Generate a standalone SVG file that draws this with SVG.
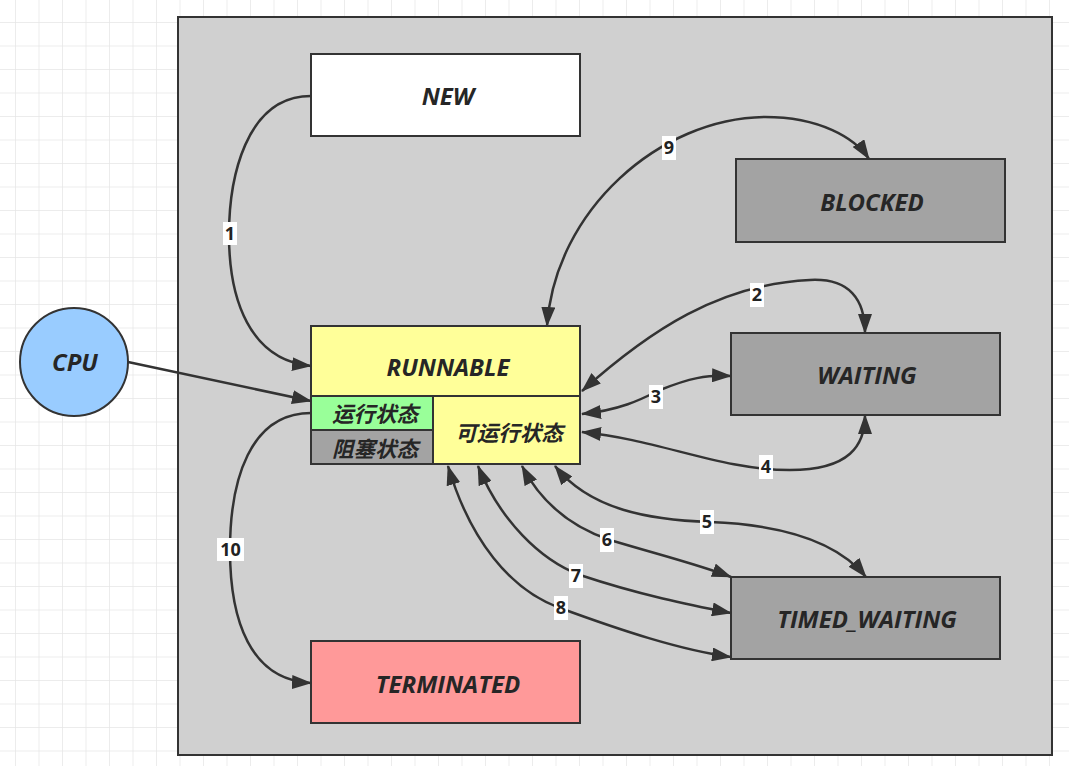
<svg xmlns="http://www.w3.org/2000/svg" width="1069" height="766" viewBox="0 0 1069 766">
<defs>
<pattern id="grid" x="15" y="22" width="23.5" height="23.5" patternUnits="userSpaceOnUse">
<path d="M0,0 H23.5 M0,0 V23.5" fill="none" stroke="#e6e6e6" stroke-width="1.5"/>
</pattern>
<marker id="ah" viewBox="0 0 20 14" refX="19" refY="7" markerWidth="20" markerHeight="14" markerUnits="userSpaceOnUse" orient="auto-start-reverse">
<path d="M0,0 L20,7 L0,14 Z" fill="#333"/>
</marker>
<style>
.node{stroke:#333;stroke-width:2}
.t{font-family:"Open Sans","Noto Sans CJK SC",sans-serif;font-weight:bold;font-style:italic;font-size:24px;fill:#262626;text-anchor:middle;dominant-baseline:central}
.c{font-family:"Noto Sans CJK SC",sans-serif;font-weight:bold;font-style:italic;font-size:21.5px;fill:#262626;text-anchor:middle;dominant-baseline:central}
.e{fill:none;stroke:#333;stroke-width:2.5}
.one{marker-end:url(#ah)}
.two{marker-start:url(#ah);marker-end:url(#ah)}
.lb{fill:#fff}
.lt{font-family:"Open Sans",sans-serif;font-weight:bold;font-size:18px;fill:#222;text-anchor:middle;dominant-baseline:central}
</style>
</defs>
<rect width="1069" height="766" fill="#fff"/>
<rect width="1069" height="766" fill="url(#grid)"/>
<rect id="container" x="178" y="17" width="874" height="738" fill="#d0d0d0" stroke="#333" stroke-width="2"/>

<g id="NEW"><rect class="node" x="311" y="54" width="269" height="82" fill="#fff"/><text class="t" x="448" y="95">NEW</text></g>
<g id="BLOCKED"><rect class="node" x="736" y="159" width="269" height="83" fill="#a3a3a3"/><text class="t" x="872" y="201">BLOCKED</text></g>
<g id="WAITING"><rect class="node" x="731" y="333" width="269" height="82" fill="#a3a3a3"/><text class="t" x="867" y="374">WAITING</text></g>
<g id="RUNNABLE">
<rect class="node" x="311" y="326" width="269" height="70" fill="#ffff99"/><text class="t" x="448" y="366">RUNNABLE</text>
<rect class="node" x="311" y="396" width="122" height="34" fill="#99ff99"/><text class="c" x="375" y="412">运行状态</text>
<rect class="node" x="311" y="430" width="122" height="34" fill="#a3a3a3"/><text class="c" x="375" y="447">阻塞状态</text>
<rect class="node" x="433" y="396" width="147" height="68" fill="#ffff99"/><text class="c" x="509" y="431">可运行状态</text>
</g>
<g id="TIMED_WAITING"><rect class="node" x="731" y="577" width="269" height="82" fill="#a3a3a3"/><text class="t" x="867" y="618">TIMED_WAITING</text></g>
<g id="TERMINATED"><rect class="node" x="311" y="641" width="269" height="82" fill="#ff9999"/><text class="t" x="448" y="683">TERMINATED</text></g>
<g id="CPU"><circle class="node" cx="74" cy="362" r="54" fill="#99ccff"/><text class="t" x="75" y="361">CPU</text></g>

<g id="connectors">
<path class="e one" d="M311,96 C245,96 229,180 229,235 C229,300 250,360 311,366"/>
<path class="e one" d="M128,362 L311,401"/>
<path class="e one" d="M311,413 C250,413 230,480 230,550 C230,620 250,680 311,683"/>
<path class="e two" d="M547,326 C555,210 660,118 765,117 C820,117 855,138 869,159"/>
<path class="e two" d="M582,391 C650,330 720,284 810,280 C850,278 865,300 865,333"/>
<path class="e two" d="M582,414 C620,410 640,400 660,390 C690,378 705,375 731,376"/>
<path class="e two" d="M582,432 C660,440 720,470 790,470 C850,470 865,445 865,415"/>
<path class="e two" d="M555,466 C590,510 650,520 710,522 C790,525 840,545 866,577"/>
<path class="e two" d="M522,466 C545,510 580,530 610,540 C660,555 700,565 731,577"/>
<path class="e two" d="M478,466 C500,520 540,560 580,575 C640,595 690,605 731,613"/>
<path class="e two" d="M448,466 C470,540 510,590 560,608 C620,630 680,650 731,657"/>
<g id="labels">
<rect class="lb" x="223" y="222" width="14" height="23"/><text class="lt" x="230" y="233">1</text>
<rect class="lb" x="217" y="538" width="27" height="23"/><text class="lt" x="230.5" y="549">10</text>
<rect class="lb" x="662" y="136" width="14" height="24"/><text class="lt" x="669" y="147">9</text>
<rect class="lb" x="750" y="283" width="14" height="24"/><text class="lt" x="757" y="294">2</text>
<rect class="lb" x="649" y="385" width="14" height="24"/><text class="lt" x="656" y="396">3</text>
<rect class="lb" x="759" y="455" width="14" height="24"/><text class="lt" x="766" y="466">4</text>
<rect class="lb" x="700" y="510" width="14" height="24"/><text class="lt" x="707" y="521">5</text>
<rect class="lb" x="600" y="528" width="14" height="24"/><text class="lt" x="607" y="539">6</text>
<rect class="lb" x="569" y="564" width="14" height="24"/><text class="lt" x="576" y="575">7</text>
<rect class="lb" x="554" y="596" width="14" height="24"/><text class="lt" x="561" y="607">8</text>
</g>
</g>
</svg>
